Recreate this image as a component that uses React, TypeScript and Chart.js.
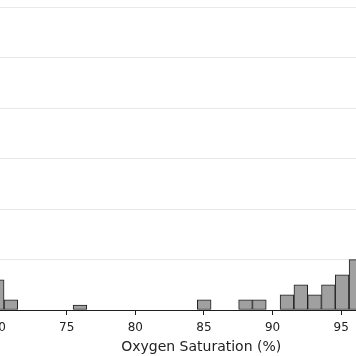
import React, { useEffect, useRef } from "react";
import { Chart, registerables } from "chart.js";

Chart.register(...registerables);

// Histogram bins (bin centre, %) and counts
const binCenters = [
  69.93, 70.93, 71.94, 72.94, 73.95, 74.96, 75.96, 76.97, 77.97, 78.98,
  79.98, 80.99, 82.0, 83.0, 84.01, 85.02, 86.02, 87.03, 88.03, 89.04,
  90.04, 91.05, 92.06, 93.06, 94.07, 95.07, 96.08,
];
const counts = [
  6, 2, 0, 0, 0, 0, 1, 0, 0, 0,
  0, 0, 0, 0, 0, 2, 0, 0, 2, 2,
  0, 3, 5, 3, 5, 7, 10,
];
const xTickValues = [70, 75, 80, 85, 90, 95, 100];
const yTickValues = [0, 10, 20, 30, 40, 50, 60];
const xMin = 69.42;
const xMax = 100.18;
const xTitle = "Oxygen Saturation (%)";

export default function App() {
  const ref = useRef<HTMLCanvasElement | null>(null);

  useEffect(() => {
    if (!ref.current) return;
    const chart = new Chart(ref.current, {
      type: "bar",
      data: {
        datasets: [
          {
            data: binCenters.map((x, i) => ({ x, y: counts[i] })),
            backgroundColor: "#a0a0a0",
            borderColor: "#1e1e1e",
            borderWidth: 1,
            borderSkipped: false,
            barPercentage: 1,
            categoryPercentage: 1,
          },
        ],
      },
      options: {
        animation: false,
        responsive: true,
        maintainAspectRatio: false,
        layout: { padding: { left: 40.2, right: 17.8, top: 7.5, bottom: 0 } },
        plugins: { legend: { display: false }, tooltip: { enabled: false } },
        scales: {
          x: {
            type: "linear",
            offset: false,
            min: xMin,
            max: xMax,
            afterBuildTicks: (s: any) => {
              s.ticks = xTickValues.map((v) => ({ value: v }));
            },
            grid: {
              display: true,
              drawOnChartArea: false,
              drawTicks: true,
              tickLength: 5,
              tickColor: "#1e1e1e",
              offset: false,
            },
            border: { display: true, color: "#1e1e1e", width: 1 },
            ticks: {
              autoSkip: false,
              maxRotation: 0,
              padding: 6,
              color: "#222",
              font: { family: "DejaVu Sans", size: 12 },
            },
            title: {
              display: true,
              text: xTitle,
              color: "#222",
              font: { family: "DejaVu Sans", size: 14 },
              padding: { top: -2.2, bottom: 0 },
            },
          },
          y: {
            type: "linear",
            min: 0,
            max: 60,
            afterBuildTicks: (s: any) => {
              s.ticks = yTickValues.map((v) => ({ value: v }));
            },
            ticks: { display: false },
            border: { display: false },
            grid: {
              drawTicks: false,
              color: (ctx: any) =>
                ctx.tick && ctx.tick.value === 0 ? "rgba(0,0,0,0)" : "#e8e8e8",
            },
          },
        },
      },
    });
    return () => chart.destroy();
  }, []);

  return (
    <div
      style={{
        position: "fixed",
        left: 0,
        top: 0,
        width: 356,
        height: 356,
        overflow: "hidden",
        background: "#fff",
      }}
    >
      <div style={{ position: "absolute", left: -50, top: 0, width: 480, height: 356 }}>
        <canvas ref={ref} />
      </div>
    </div>
  );
}
